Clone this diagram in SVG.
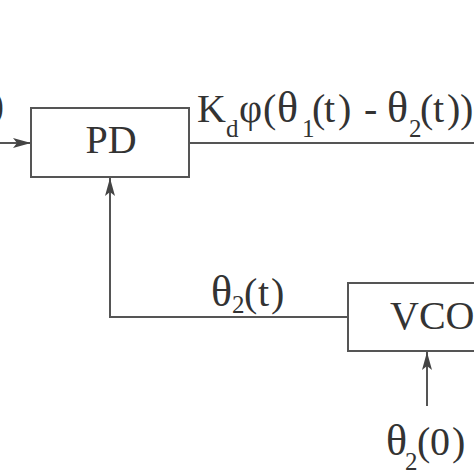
<svg xmlns="http://www.w3.org/2000/svg" width="474" height="474" viewBox="0 0 474 474">
<style>
.box{fill:#fff;stroke:#555;stroke-width:2}
.ln{fill:none;stroke:#555;stroke-width:2}
.t{font-family:"Liberation Serif","Times New Roman",serif;fill:#333;font-size:40px}
.s{font-size:25px}
.g{font-size:44px}
</style>
<defs>
<marker id="ah" viewBox="0 0 18 10" refX="18" refY="5" markerWidth="18" markerHeight="10" markerUnits="userSpaceOnUse" orient="auto">
<path d="M0,0 L18,5 L0,10 L4,5 Z" fill="#444"/>
</marker>
</defs>
<rect width="474" height="474" fill="#fff"/>
<g id="connectors">
<line class="ln" x1="0" y1="143" x2="31" y2="143" marker-end="url(#ah)"/>
<line class="ln" x1="189" y1="143" x2="474" y2="143"/>
<polyline class="ln" points="348,317 110,317 110,178" marker-end="url(#ah)"/>
<line class="ln" x1="427" y1="406" x2="427" y2="352" marker-end="url(#ah)"/>
</g>
<g id="pd">
<rect class="box" x="31" y="108" width="158" height="69"/>
<text class="t" x="111" y="153" text-anchor="middle" font-size="36">PD</text>
</g>
<g id="vco">
<rect class="box" x="348" y="283" width="140" height="68"/>
<text class="t" x="390" y="329" font-size="38">VCO</text>
</g>
<g id="labels">
<text class="t" x="4" y="118" text-anchor="end">)</text>
<text class="t" y="122"><tspan x="197">K</tspan><tspan class="s" x="226" y="137">d</tspan><tspan x="239" y="122">φ</tspan><tspan x="263">(</tspan><tspan class="g" x="277">θ</tspan><tspan class="s" x="302" y="137">1</tspan><tspan x="312" y="122">(</tspan><tspan x="324">t</tspan><tspan x="338">)</tspan><tspan x="364">-</tspan><tspan class="g" x="387">θ</tspan><tspan class="s" x="409" y="137">2</tspan><tspan x="420" y="122">(</tspan><tspan x="433">t</tspan><tspan x="447">)</tspan><tspan x="460">)</tspan></text>
<text class="t" y="306"><tspan class="g" x="211">θ</tspan><tspan class="s" x="232" y="313">2</tspan><tspan x="244" y="306">(</tspan><tspan x="258">t</tspan><tspan x="271">)</tspan></text>
<text class="t" y="455"><tspan class="g" x="386">θ</tspan><tspan class="s" x="405" y="470">2</tspan><tspan x="417" y="455">(</tspan><tspan x="430">0</tspan><tspan x="452">)</tspan></text>
</g>
</svg>
